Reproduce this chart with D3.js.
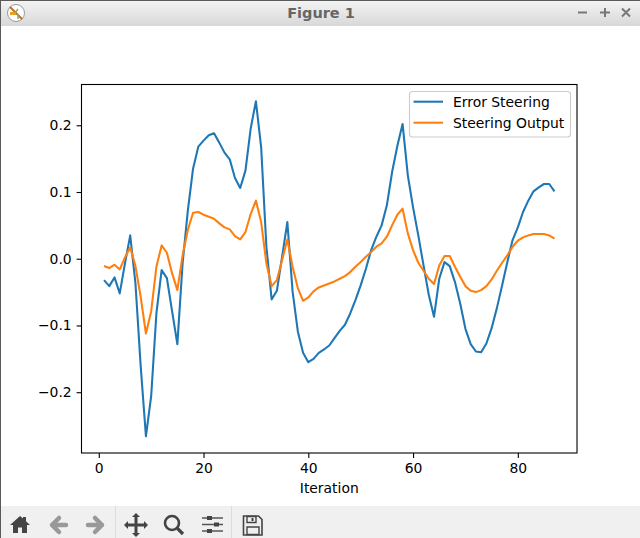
<!DOCTYPE html>
<html>
<head>
<meta charset="utf-8">
<script src="https://cdn.jsdelivr.net/npm/d3@7/dist/d3.min.js"></script>
<style>
html,body{margin:0;padding:0;background:#fff;overflow:hidden}
svg{display:block}
text{font-family:"DejaVu Sans",sans-serif}
</style>
</head>
<body>
<svg id="c" width="640" height="538"></svg>
<script>
const xTicks = [0, 20, 40, 60, 80];
const yTicks = [-0.2, -0.1, 0, 0.1, 0.2];
const seriesNames = ["Error Steering", "Steering Output"];
const seriesColors = ["#1f77b4", "#ff7f0e"];
const errorSteering = [-0.032,-0.041,-0.028,-0.052,-0.007,0.035,-0.037,-0.161,-0.266,-0.206,-0.082,-0.017,-0.029,-0.079,-0.128,-0.007,0.072,0.135,0.168,0.177,0.185,0.188,0.174,0.159,0.149,0.121,0.106,0.132,0.195,0.236,0.167,0.018,-0.061,-0.048,0.003,0.055,-0.049,-0.109,-0.141,-0.155,-0.150,-0.141,-0.136,-0.130,-0.119,-0.108,-0.099,-0.082,-0.062,-0.040,-0.015,0.013,0.033,0.050,0.080,0.130,0.169,0.202,0.125,0.077,0.035,-0.010,-0.054,-0.087,-0.030,-0.005,-0.011,-0.035,-0.067,-0.105,-0.128,-0.139,-0.140,-0.127,-0.104,-0.074,-0.040,-0.005,0.028,0.047,0.070,0.087,0.101,0.107,0.112,0.112,0.101];
const steeringOutput = [-0.011,-0.014,-0.009,-0.016,0.002,0.017,-0.011,-0.057,-0.112,-0.079,-0.012,0.020,0.009,-0.022,-0.047,0.005,0.043,0.069,0.070,0.066,0.063,0.060,0.053,0.047,0.044,0.034,0.029,0.040,0.067,0.087,0.055,-0.007,-0.041,-0.032,-0.002,0.029,-0.012,-0.044,-0.063,-0.058,-0.049,-0.043,-0.040,-0.037,-0.034,-0.030,-0.026,-0.020,-0.012,-0.005,0.003,0.010,0.018,0.023,0.033,0.050,0.066,0.075,0.038,0.013,-0.006,-0.018,-0.030,-0.038,-0.010,0.004,0.004,-0.012,-0.027,-0.041,-0.048,-0.050,-0.047,-0.041,-0.031,-0.018,-0.006,0.005,0.018,0.027,0.032,0.035,0.037,0.037,0.037,0.035,0.030];
const xLabel = "Iteration";
const windowTitle = "Figure 1";

const svg = d3.select("#c");

// window chrome
const defs = svg.append("defs");
const g = defs.append("linearGradient").attr("id","tb").attr("x1",0).attr("y1",0).attr("x2",0).attr("y2",1);
g.append("stop").attr("offset",0).attr("stop-color","#f4f4f4");
g.append("stop").attr("offset",1).attr("stop-color","#d8d8d8");
svg.append("rect").attr("x",0).attr("y",0).attr("width",640).attr("height",26).attr("fill","url(#tb)");
svg.append("rect").attr("x",0).attr("y",0).attr("width",640).attr("height",1).attr("fill","#5a5a5a");
svg.append("rect").attr("x",0).attr("y",0).attr("width",1).attr("height",538).attr("fill","#5a5a5a");
svg.append("text").attr("x",321).attr("y",18).attr("text-anchor","middle").attr("font-size",14.5).attr("font-weight","bold").attr("fill","#666").text(windowTitle);
const wb = svg.append("g").attr("stroke","#777").attr("stroke-width",2).attr("fill","none");
wb.append("path").attr("d","M578 12.5h9M600 12.5h10M605 8v9M622 8.5l8 8M630 8.5l-8 8");
const ico = svg.append("g").attr("transform","translate(16,13)");
ico.append("circle").attr("r",8.5).attr("fill","#fff").attr("stroke","#999");
ico.append("path").attr("d","M-6,-6L6,6").attr("stroke","#c8682a").attr("stroke-width",2);
ico.append("path").attr("d","M-6,-1h6v3h-6z").attr("fill","#e8a020");
ico.append("path").attr("d","M2,-4l-3,4M2,1v5").attr("stroke","#7ab870").attr("stroke-width",1.5);

// toolbar
svg.append("rect").attr("x",1).attr("y",506).attr("width",639).attr("height",32).attr("fill","#f0f0f0");
svg.append("path").attr("d","M115.5 506v32M231.5 506v32").attr("stroke","#dcdcdc");
const tb = svg.append("g");
tb.append("path").attr("d","M10 525l10-9 3 2.6v-1.6h3v4.3l4 3.7h-3v8h-5v-5.5h-4v5.5h-5v-8z").attr("fill","#444");
tb.append("path").attr("d","M66 525H52M59 518l-7 7 7 7").attr("fill","none").attr("stroke","#999").attr("stroke-width",4.5).attr("stroke-linejoin","round").attr("stroke-linecap","round");
tb.append("path").attr("d","M88 525H102M95 518l7 7-7 7").attr("fill","none").attr("stroke","#999").attr("stroke-width",4.5).attr("stroke-linejoin","round").attr("stroke-linecap","round");
tb.append("path").attr("d","M136 513l4 4h-2.500v6.500h6.500v-2.500l4 4-4 4v-2.500h-6.500v6.500h2.500l-4 4-4-4h2.500v-6.500h-6.500v2.500l-4-4 4-4v2.500h6.500v-6.500h-2.500z").attr("fill","#444");
tb.append("circle").attr("cx",172).attr("cy",523).attr("r",7).attr("fill","none").attr("stroke","#444").attr("stroke-width",2.6);
tb.append("path").attr("d","M177 528l6 6").attr("stroke","#444").attr("stroke-width",3.2);
tb.append("path").attr("d","M202 518h21M202 524.500h21M202 531h21").attr("stroke","#555").attr("stroke-width",1.3);
tb.append("path").attr("d","M207 516h5v4h-5zM214 522.500h5v4h-5zM207 529h5v4h-5z").attr("fill","#444");
tb.append("path").attr("d","M243.500 516h15l3.500 3.500v15.500h-18.500z").attr("fill","none").attr("stroke","#444").attr("stroke-width",1.6);
tb.append("path").attr("d","M247 516.500h9v6h-9zM247 527h12v7.500h-12z").attr("fill","none").attr("stroke","#444").attr("stroke-width",1.4);
tb.append("path").attr("d","M252.500 518v3").attr("stroke","#444").attr("stroke-width",2);

// plot
const plotLeft = 81.5, plotRight = 577, plotTop = 84.5, plotBottom = 453;
const iterations = errorSteering.map((_, i) => i + 1);
const allVals = errorSteering.concat(steeringOutput);
const xExt = d3.extent(iterations), yExt = d3.extent(allVals);
const xPad = (xExt[1]-xExt[0])*0.05, yPad = (yExt[1]-yExt[0])*0.05;
const x = d3.scaleLinear().domain([xExt[0]-xPad, xExt[1]+xPad]).range([plotLeft,plotRight]);
const y = d3.scaleLinear().domain([yExt[0]-yPad, yExt[1]+yPad]).range([plotBottom,plotTop]);

const line = d3.line().x((d,i)=>x(iterations[i])).y(d=>y(d));
[errorSteering, steeringOutput].forEach((s,i)=>{
  svg.append("path").attr("d",line(s)).attr("fill","none").attr("stroke",seriesColors[i]).attr("stroke-width",2.08).attr("stroke-linejoin","round").attr("stroke-linecap","butt");
});

const fontSize = 13.9;
const xAxis = d3.axisBottom(x).tickValues(xTicks).tickSize(4.9).tickPadding(4.9).tickFormat(d3.format("d"));
const yAxis = d3.axisLeft(y).tickValues(yTicks).tickSize(4.9).tickPadding(4.9).tickFormat(d=>d3.format(".1f")(d).replace("-","\u2212").replace("\u22120.0","0.0"));
[svg.append("g").attr("transform",`translate(0,${plotBottom})`).call(xAxis),
 svg.append("g").attr("transform",`translate(${plotLeft},0)`).call(yAxis)].forEach(a=>{
  a.select(".domain").remove();
  a.selectAll("line").attr("stroke","#000").attr("stroke-width",1.1);
  a.selectAll("text").attr("fill","#000").attr("font-size",fontSize).attr("font-family","'DejaVu Sans'");
});
svg.append("rect").attr("x",plotLeft).attr("y",plotTop).attr("width",plotRight-plotLeft).attr("height",plotBottom-plotTop).attr("fill","none").attr("stroke","#000").attr("stroke-width",1.1);
svg.append("text").attr("x",(plotLeft+plotRight)/2).attr("y",493).attr("text-anchor","middle").attr("font-size",fontSize).attr("fill","#000").text(xLabel);

// legend
svg.append("rect").attr("x",409.5).attr("y",91.5).attr("width",161).attr("height",45.5).attr("rx",3).attr("fill","#fff").attr("fill-opacity",0.8).attr("stroke","#ccc").attr("stroke-width",1.1);
seriesNames.forEach((n,i)=>{
  const ly = 101.7 + i*21;
  svg.append("line").attr("x1",413.5).attr("x2",443).attr("y1",ly).attr("y2",ly).attr("stroke",seriesColors[i]).attr("stroke-width",2.08);
  svg.append("text").attr("x",453).attr("y",ly+5).attr("font-size",fontSize).attr("fill","#000").text(n);
});
</script>
</body>
</html>
